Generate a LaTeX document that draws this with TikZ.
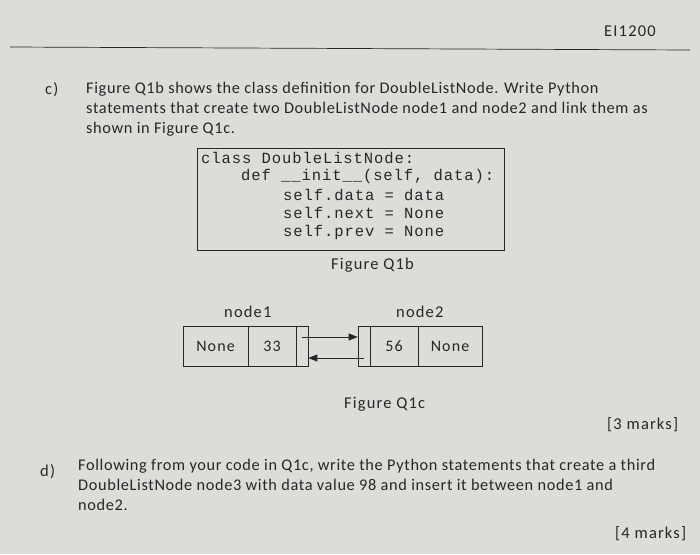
\documentclass[tikz,border=0pt]{standalone}
\usepackage{fontspec}
\setmainfont{Carlito}[LetterSpace=7]
\setmonofont{Liberation Mono}[LetterSpace=6]
\usetikzlibrary{arrows.meta}
\definecolor{paper}{RGB}{222,220,216}
\definecolor{ink}{RGB}{40,38,40}
\tikzset{
  txt/.style={anchor=west,inner sep=0pt,text=ink,font=\fontsize{16.5}{20}\selectfont},
  txtd/.style={anchor=west,inner sep=0pt,text=ink,font=\fontsize{16.3}{20}\selectfont\addfontfeature{LetterSpace=4}},
  cell/.style={draw=ink,line width=0.6pt,minimum height=40pt,inner sep=0pt,text=ink,font=\fontsize{16}{18}\selectfont},
  code/.style={anchor=west,inner sep=0pt,text=ink,font=\ttfamily\fontsize{15.5}{15}\selectfont},
  link/.style={draw=ink,line width=0.8pt,-{Triangle[length=9pt,width=7pt]}}
}
\begin{document}
\begin{tikzpicture}[x=1pt,y=-1pt]
\fill[paper] (0,0) rectangle (700,554);
\useasboundingbox (0,0) rectangle (700,554);
\draw[ink,line width=0.7pt] (10,47) -- (690,50);
\node[txt] (hdr) at (604,31) {EI1200};
\node[txt] (c) at (45,90) {c)};
\node[txt,align=left,anchor=north west,font=\fontsize{16.3}{20}\selectfont\addfontfeature{LetterSpace=4}] (qc) at (86,82) {Figure Q1b shows the class definition for DoubleListNode. Write Python\\statements that create two DoubleListNode node1 and node2 and link them as\\shown in Figure Q1c.};
\draw[ink,line width=0.8pt] (197,148) rectangle (504,250);
\node[code] (l1) at (201,158) {class DoubleListNode:};
\node[code] (l2) at (241,176) {def \_\_init\_\_(self, data):};
\node[code] (l3) at (283,195) {self.data = data};
\node[code] (l4) at (283,213) {self.next = None};
\node[code] (l5) at (283,232) {self.prev = None};
\node[txt] (f1) at (331,265) {Figure Q1b};
\node[txt] (n1) at (224,312) {node1};
\node[txt] (n2) at (396,312) {node2};
\node[cell,minimum width=65pt] (a1) at (215.5,346) {None};
\node[cell,minimum width=48pt] (a2) at (272,346) {33};
\node[cell,minimum width=12pt] (a3) at (302,346) {};
\node[cell,minimum width=12pt] (b1) at (364,346) {};
\node[cell,minimum width=48pt] (b2) at (394,346) {56};
\node[cell,minimum width=64pt] (b3) at (450,346) {None};
\draw[link] ([yshift=9pt]a3.center) -- ([yshift=9pt]b1.west);
\draw[link] ([yshift=-12pt]b1.center) -- ([yshift=-12pt]a3.east);
\node[txt] (f2) at (344,404) {Figure Q1c};
\node[txt] (m1) at (607,425) {[3 marks]};
\node[txt] (d) at (40,472) {d)};
\node[txtd,align=left,anchor=north west] (qd) at (78,459) {Following from your code in Q1c, write the Python statements that create a third\\DoubleListNode node3 with data value 98 and insert it between node1 and\\node2.};
\node[txt] (m2) at (615,534) {[4 marks]};
\end{tikzpicture}
\end{document}
